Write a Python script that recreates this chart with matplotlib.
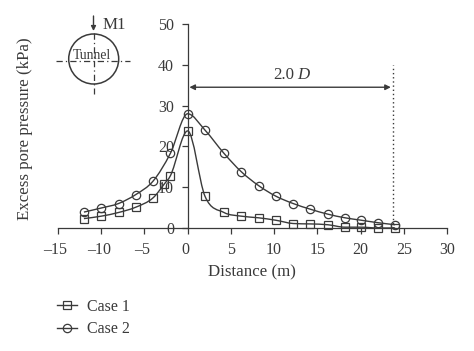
import numpy as np
import matplotlib
matplotlib.use("Agg")
import matplotlib.pyplot as plt
from matplotlib.patches import Circle, PathPatch
from matplotlib.path import Path
from matplotlib.transforms import ScaledTranslation

plt.rcParams['font.family'] = ['Liberation Serif', 'DejaVu Serif']

case1_x = [-12, -10, -8, -6, -4, -2.7, -2, 0, 2, 4.2, 6.2, 8.2, 10.2, 12.2, 14.2, 16.2, 18.2, 20.1, 22, 24]
case1_y = [2.3, 2.9, 3.8, 5.1, 7.4, 10.8, 12.8, 23.8, 7.8, 3.8, 2.9, 2.5, 1.9, 1.1, 1.0, 0.8, 0.2, 0.2, 0.0, 0.0]
case2_x = [-12, -10, -8, -6, -4, -2, 0, 2, 4.2, 6.2, 8.2, 10.2, 12.2, 14.2, 16.2, 18.2, 20.1, 22, 24]
case2_y = [3.9, 4.9, 6.0, 8.2, 11.5, 18.3, 28.0, 24.0, 18.3, 13.8, 10.4, 7.8, 6.0, 4.6, 3.4, 2.5, 1.9, 1.3, 0.8]
x_ticks = [-15, -10, -5, 0, 5, 10, 15, 20, 25, 30]
y_ticks = [0, 10, 20, 30, 40, 50]
span_end = 23.7
span_height = 34.5

INK = '#3a3a3a'
W, H = 474, 351


def smooth_path(x, y):
    """Bezier path through the points with limited Catmull-Rom tangents."""
    x, y = np.asarray(x, float), np.asarray(y, float)
    h = np.diff(x)
    s = np.diff(y) / h
    m = np.zeros_like(x)
    m[0], m[-1] = s[0], s[-1]
    for i in range(1, len(x) - 1):
        if s[i - 1] * s[i] > 0:
            mean = (s[i - 1] + s[i]) / 2
            limit = 3 * min(abs(s[i - 1]), abs(s[i]))
            m[i] = np.sign(mean) * min(abs(mean), limit)
    verts, codes = [(x[0], y[0])], [Path.MOVETO]
    for i in range(len(h)):
        verts += [(x[i] + h[i] / 3, y[i] + m[i] * h[i] / 3),
                  (x[i + 1] - h[i] / 3, y[i + 1] - m[i + 1] * h[i] / 3),
                  (x[i + 1], y[i + 1])]
        codes += [Path.CURVE4] * 3
    return Path(verts, codes)


fig = plt.figure(figsize=(W / 100, H / 100), dpi=100)
ax = fig.add_axes([58 / W, 1 - 228 / H, (447 - 58) / W, (228 - 24) / H])
ax.set_xlim(-15, 30)
ax.set_ylim(0, 50)
ax.patch.set_alpha(0)

for sp in ('top', 'right'):
    ax.spines[sp].set_visible(False)
ax.spines['left'].set_position(('data', 0))
for sp in ('left', 'bottom'):
    ax.spines[sp].set_color(INK)
    ax.spines[sp].set_linewidth(0.9)

ax.set_xticks(x_ticks)
ax.set_yticks(y_ticks)
ax.tick_params(axis='both', direction='out', length=4.3, width=0.9, color=INK,
               labelcolor=INK, labelsize=11.5)
ax.tick_params(axis='y', pad=5.5)
ax.tick_params(axis='x', pad=5.5)
ax.set_xticklabels([str(t).replace('-', '\u2013') for t in x_ticks])
shift = ScaledTranslation(-2.5 / 100, 0, fig.dpi_scale_trans)
for t, lab in zip(x_ticks, ax.get_xticklabels()):
    if t <= 0:
        lab.set_transform(lab.get_transform() + shift)

for xs, ys, marker, size, label in ((case1_x, case1_y, 's', 5.3, 'Case 1'),
                                    (case2_x, case2_y, 'o', 6.0, 'Case 2')):
    ax.add_patch(PathPatch(smooth_path(xs, ys), fill=False, ec=INK, lw=1.0,
                           clip_on=False, zorder=3))
    ax.plot(xs, ys, ls='none', marker=marker, ms=size, mfc='none', mec=INK, mew=0.9,
            clip_on=False, zorder=4)
    ax.plot([], [], color=INK, lw=1.0, marker=marker, ms=size, mfc='none',
            mec=INK, mew=0.9, label=label)

ax.plot([span_end, span_end], [0, 40], color=INK, lw=1.0, ls=(0, (1, 2)), zorder=2)
ax.annotate('', xy=(0.2, span_height), xytext=(span_end - 0.2, span_height),
            arrowprops=dict(arrowstyle='<|-|>', color=INK, lw=1.0, mutation_scale=8,
                            shrinkA=0, shrinkB=0))
ax.text(12.3, 37.5, '2.0', ha='right', va='center', fontsize=12.2, color=INK)
ax.text(12.7, 37.5, 'D', ha='left', va='center', fontsize=12.2, style='italic', color=INK)

fig.text(25 / W, 1 - 129 / H, 'Excess pore pressure (kPa)', rotation=90, ha='center',
         va='center', fontsize=12.2, color=INK)
fig.text(252 / W, 1 - 272 / H, 'Distance (m)', ha='center', va='center', fontsize=12.2,
         color=INK)

ax.legend(loc='upper left', bbox_to_anchor=(57 / W, 1 - 299 / H),
          bbox_transform=fig.transFigure, frameon=False, fontsize=11.5, labelcolor=INK,
          handlelength=1.25, handletextpad=0.65, labelspacing=0.4, borderpad=0,
          borderaxespad=0)

# Tunnel sketch, placed in pixel space over the axes
ov = fig.add_axes([0, 0, 1, 1])
ov.set_xlim(0, W)
ov.set_ylim(H, 0)
ov.axis('off')
ov.add_patch(Circle((93.7, 59), 25, fill=False, ec=INK, lw=1.1))
ov.plot([56, 130], [61, 61], color=INK, lw=0.9, ls=(0, (5, 2.5, 1, 2.5)))
ov.plot([94, 94], [33, 94], color=INK, lw=0.9, ls=(0, (5, 2.5, 1, 2.5)))
ov.annotate('', xy=(93.5, 31), xytext=(93.5, 16),
            arrowprops=dict(arrowstyle='-|>', color=INK, lw=1.0, mutation_scale=7,
                            shrinkA=0, shrinkB=0))
ov.text(103, 25, 'M1', ha='left', va='center', fontsize=12.2, color=INK)
ov.text(91.5, 55.5, 'Tunnel', ha='center', va='center', fontsize=9.8, color=INK)

fig.savefig('out.png', dpi=100)
